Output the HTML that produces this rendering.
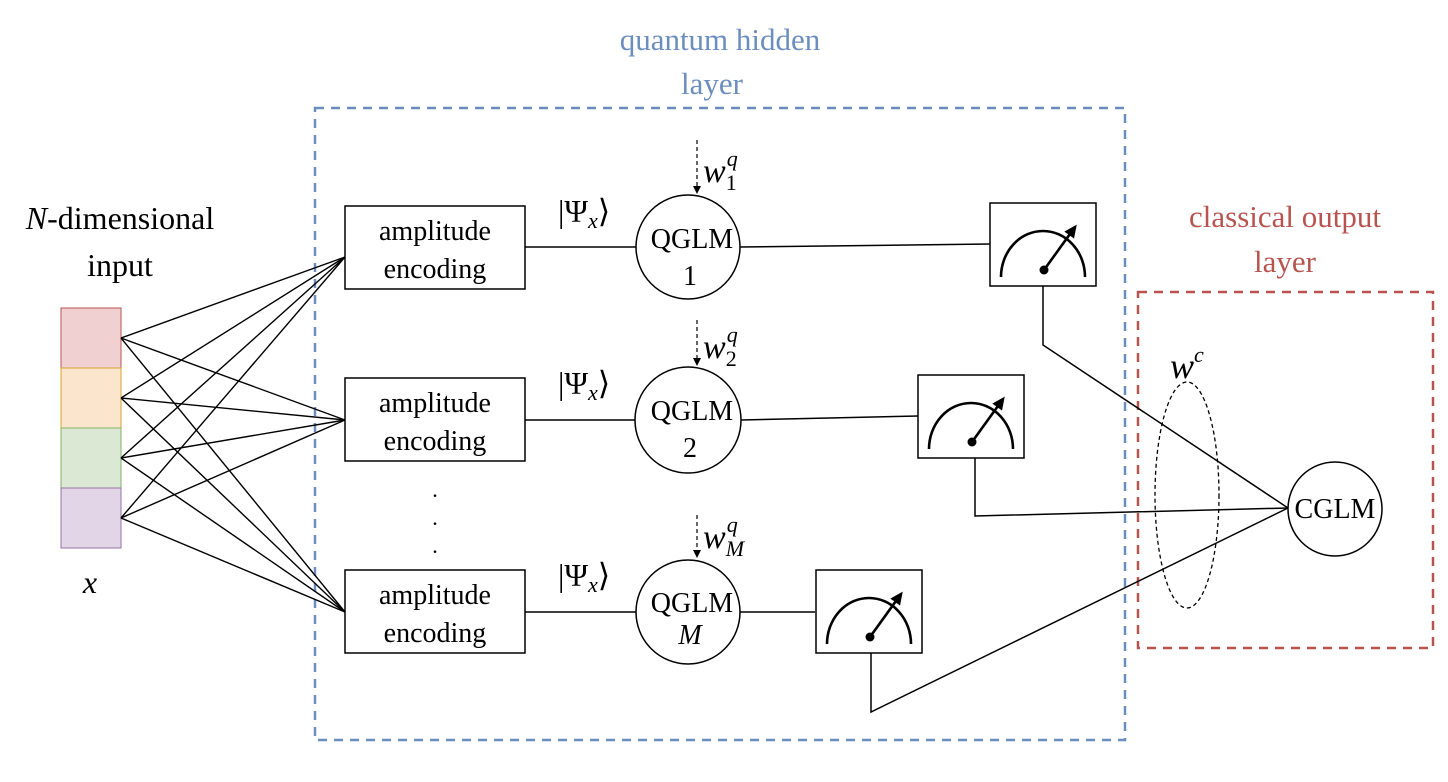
<!DOCTYPE html>
<html><head><meta charset="utf-8"><style>
body{margin:0;background:#fff;}
text{font-family:"Liberation Serif",serif;}
</style></head><body>
<svg width="1448" height="777" viewBox="0 0 1448 777" xmlns="http://www.w3.org/2000/svg">
<defs>
<marker id="ah" markerWidth="8" markerHeight="8" refX="6" refY="4" orient="auto" markerUnits="userSpaceOnUse"><path d="M0,0 L8,4 L0,8 Z" fill="#000"/></marker>
<marker id="ah2" markerWidth="14" markerHeight="14" refX="10" refY="7" orient="auto" markerUnits="userSpaceOnUse"><path d="M0,1 L13,7 L0,13 Z" fill="#000"/></marker>
<g id="meter">
<rect x="0" y="0" width="106" height="83" fill="#fff" stroke="#000" stroke-width="1.5"/>
<path d="M11 74 A42 46 0 0 1 95 74" fill="none" stroke="#000" stroke-width="2.6"/>
<line x1="54" y1="67" x2="85" y2="24" stroke="#000" stroke-width="2.6" marker-end="url(#ah2)"/>
<circle cx="54" cy="67" r="4.5" fill="#000"/>
</g>
</defs>
<rect x="315" y="108" width="810" height="632" fill="none" stroke="#6c8ebf" stroke-width="2.5" stroke-dasharray="9,7"/>
<rect x="1138" y="292" width="295" height="356" fill="none" stroke="#b85450" stroke-width="2.5" stroke-dasharray="9,7"/>
<text x="720" y="50" font-size="31" fill="#6c8ebf" text-anchor="middle">quantum hidden</text>
<text x="712" y="94" font-size="31" fill="#6c8ebf" text-anchor="middle">layer</text>
<text x="1285" y="227" font-size="31" fill="#b85450" text-anchor="middle">classical output</text>
<text x="1285" y="272" font-size="31" fill="#b85450" text-anchor="middle">layer</text>
<text x="120" y="229" font-size="32" text-anchor="middle"><tspan font-style="italic">N</tspan>-dimensional</text>
<text x="120" y="276" font-size="32" text-anchor="middle">input</text>
<rect x="61" y="308" width="60" height="60" fill="#f0d0d0" stroke="#b85450"/>
<rect x="61" y="368" width="60" height="60" fill="#fbe5cc" stroke="#d6a52a"/>
<rect x="61" y="428" width="60" height="60" fill="#dbe8d4" stroke="#82b366"/>
<rect x="61" y="488" width="60" height="60" fill="#e1d5e7" stroke="#9673a6"/>
<text x="90" y="593" font-size="32" font-style="italic" text-anchor="middle">x</text>
<g stroke="#000" stroke-width="1.4">
<line x1="121" y1="338" x2="345" y2="257"/><line x1="121" y1="338" x2="345" y2="420"/><line x1="121" y1="338" x2="345" y2="612"/>
<line x1="121" y1="398" x2="345" y2="257"/><line x1="121" y1="398" x2="345" y2="420"/><line x1="121" y1="398" x2="345" y2="612"/>
<line x1="121" y1="458" x2="345" y2="257"/><line x1="121" y1="458" x2="345" y2="420"/><line x1="121" y1="458" x2="345" y2="612"/>
<line x1="121" y1="518" x2="345" y2="257"/><line x1="121" y1="518" x2="345" y2="420"/><line x1="121" y1="518" x2="345" y2="612"/>
</g>
<g stroke="#000" stroke-width="1.5" fill="#fff">
<rect x="345" y="206" width="180" height="83"/>
<rect x="345" y="378" width="180" height="83"/>
<rect x="345" y="570" width="180" height="83"/>
<line x1="525" y1="247" x2="636" y2="247"/>
<line x1="525" y1="420" x2="636" y2="420"/>
<line x1="525" y1="612" x2="636" y2="612"/>
<circle cx="688" cy="247" r="52"/>
<circle cx="688" cy="420" r="53"/>
<circle cx="688" cy="612" r="52"/>
<line x1="740" y1="247" x2="990" y2="244"/>
<line x1="741" y1="420" x2="918" y2="416"/>
<line x1="740" y1="612" x2="815" y2="612"/>
</g>
<g font-size="28" text-anchor="middle">
<text x="435" y="240">amplitude</text><text x="435" y="278">encoding</text>
<text x="435" y="412">amplitude</text><text x="435" y="450">encoding</text>
<text x="435" y="604">amplitude</text><text x="435" y="642">encoding</text>
<text x="692" y="248">QGLM</text><text x="690" y="285">1</text>
<text x="692" y="420">QGLM</text><text x="690" y="457">2</text>
<text x="692" y="612">QGLM</text><text x="690" y="644" font-style="italic">M</text>
</g>
<g font-size="32">
<text x="558" y="222">|Ψ<tspan font-size="22" font-style="italic" dy="6">x</tspan><tspan dy="-6">⟩</tspan></text>
<text x="558" y="394">|Ψ<tspan font-size="22" font-style="italic" dy="6">x</tspan><tspan dy="-6">⟩</tspan></text>
<text x="558" y="586">|Ψ<tspan font-size="22" font-style="italic" dy="6">x</tspan><tspan dy="-6">⟩</tspan></text>
</g>
<text x="435" y="497" font-size="22" text-anchor="middle">.</text>
<text x="435" y="525" font-size="22" text-anchor="middle">.</text>
<text x="435" y="553" font-size="22" text-anchor="middle">.</text>
<g stroke="#000" stroke-width="1.2" stroke-dasharray="4,3">
<line x1="697" y1="140" x2="697" y2="192" marker-end="url(#ah)"/>
<line x1="697" y1="320" x2="697" y2="364" marker-end="url(#ah)"/>
<line x1="697" y1="515" x2="697" y2="556" marker-end="url(#ah)"/>
</g>
<g font-size="34" font-style="italic">
<text x="703" y="182">w<tspan font-size="22" dx="1" dy="-16">q</tspan><tspan font-size="22" dx="-12" dy="24" font-style="normal">1</tspan></text>
<text x="703" y="358">w<tspan font-size="22" dx="1" dy="-16">q</tspan><tspan font-size="22" dx="-12" dy="24" font-style="normal">2</tspan></text>
<text x="703" y="548">w<tspan font-size="22" dx="1" dy="-16">q</tspan><tspan font-size="22" dx="-12" dy="24">M</tspan></text>
</g>
<use href="#meter" x="990" y="203"/>
<use href="#meter" x="918" y="375"/>
<use href="#meter" x="816" y="570"/>
<g stroke="#000" stroke-width="1.5" fill="none">
<polyline points="1043,286 1043,345 1288,508"/>
<polyline points="975,458 975,516 1288,508"/>
<polyline points="871,653 871,712 1288,508"/>
<circle cx="1335" cy="509" r="47" fill="#fff"/>
</g>
<ellipse cx="1187" cy="495" rx="32" ry="113" fill="none" stroke="#000" stroke-width="1.3" stroke-dasharray="4,3"/>
<text x="1170" y="378" font-size="36" font-style="italic">w<tspan font-size="22" dy="-16">c</tspan></text>
<text x="1335" y="518" font-size="28" text-anchor="middle">CGLM</text>
</svg>
</body></html>
